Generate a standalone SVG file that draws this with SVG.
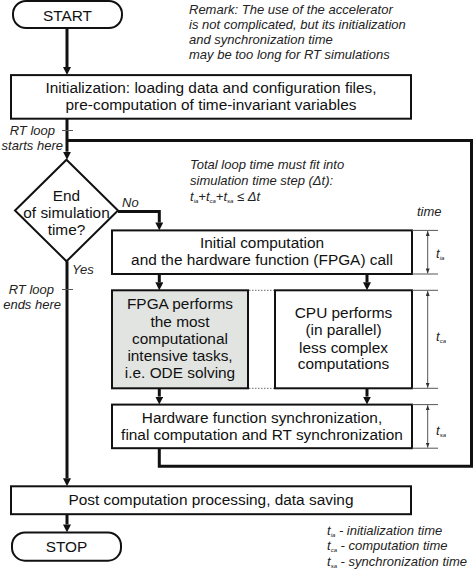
<svg xmlns="http://www.w3.org/2000/svg" width="474" height="569" viewBox="0 0 474 569">
<style>
  .box { fill: #ffffff; stroke: #111; stroke-width: 2; }
  .gray { fill: #e1e4e1; stroke: #111; stroke-width: 2; }
  .t { font-family: "Liberation Sans", Arial, sans-serif; font-size: 15.4px; fill: #111; text-anchor: middle; }
  .it { font-family: "Liberation Sans", Arial, sans-serif; font-size: 13px; font-style: italic; fill: #222; }
  .sub { font-size: 6px; }
  .flow { fill: none; stroke: #111; stroke-width: 3; }
  .thin { fill: none; stroke: #555; stroke-width: 1; }
  .dot { fill: none; stroke: #666; stroke-width: 1; stroke-dasharray: 1.5 1.5; }
</style>
<defs>
  <marker id="ah" viewBox="0 0 8 8" refX="0" refY="4" markerWidth="8" markerHeight="8" markerUnits="userSpaceOnUse" orient="auto">
    <path d="M0,0 L8,4 L0,8 z" fill="#111"/>
  </marker>
  <marker id="sh" viewBox="0 0 5 4" refX="5" refY="2" markerWidth="5" markerHeight="4" markerUnits="userSpaceOnUse" orient="auto-start-reverse">
    <path d="M0,0 L5,2 L0,4 z" fill="#333"/>
  </marker>
</defs>
<rect width="474" height="569" fill="#ffffff"/>

<g id="connectors">
  <line class="flow" x1="67" y1="28" x2="67" y2="67" marker-end="url(#ah)"/>
  <line class="flow" x1="67" y1="118.7" x2="67" y2="151.7" marker-end="url(#ah)"/>
  <line class="flow" x1="67" y1="261.3" x2="67" y2="478.3" marker-end="url(#ah)"/>
  <line class="flow" x1="67" y1="514.2" x2="67" y2="524.4" marker-end="url(#ah)"/>
  <path class="flow" d="M118,211.5 H159.3 V222.4" marker-end="url(#ah)"/>
  <line class="flow" x1="159.3" y1="274" x2="159.3" y2="282.3" marker-end="url(#ah)"/>
  <line class="flow" x1="367" y1="274" x2="367" y2="282.3" marker-end="url(#ah)"/>
  <line class="flow" x1="159.3" y1="388.3" x2="159.3" y2="396.6" marker-end="url(#ah)"/>
  <line class="flow" x1="367" y1="388.3" x2="367" y2="396.6" marker-end="url(#ah)"/>
  <path class="flow" d="M159.3,448.2 V466.3 H471.5 V140.5 H67"/>
  <line class="thin" x1="62" y1="130.5" x2="73" y2="130.5"/>
  <line class="thin" x1="62" y1="289.5" x2="73" y2="289.5"/>
  <line class="dot" x1="249" y1="290.3" x2="274" y2="290.3"/>
  <line class="dot" x1="249" y1="388.3" x2="274" y2="388.3"/>
</g>

<g id="start">
  <rect class="box" x="13" y="1" width="109" height="27" rx="13"/>
  <text class="t" x="67.5" y="21">START</text>
</g>

<g id="remark">
  <text class="it" x="189" y="13.5">Remark: The use of the accelerator</text>
  <text class="it" x="189" y="28.8">is not complicated, but its initialization</text>
  <text class="it" x="189" y="43.5">and synchronization time</text>
  <text class="it" x="189" y="58.8">may be too long for RT simulations</text>
</g>

<g id="init">
  <rect class="box" x="11" y="75.1" width="400" height="43.6"/>
  <text class="t" x="211" y="92.5">Initialization: loading data and configuration files,</text>
  <text class="t" x="211" y="109.6">pre-computation of time-invariant variables</text>
</g>

<g id="rt-start-label">
  <text class="it" x="55" y="134.6" text-anchor="end">RT loop</text>
  <text class="it" x="63" y="149.9" text-anchor="end">starts here</text>
</g>

<g id="decision">
  <polygon class="box" points="66.5,159.7 118,210.5 66.5,261.3 15,210.5"/>
  <text class="t" x="66.5" y="200.6">End</text>
  <text class="t" x="66.5" y="217.7">of simulation</text>
  <text class="t" x="66.5" y="234.8">time?</text>
</g>

<g id="labels">
  <text class="it" x="122" y="207.2">No</text>
  <text class="it" x="72" y="274.3">Yes</text>
  <text class="it" x="54" y="293.9" text-anchor="end">RT loop</text>
  <text class="it" x="61" y="308.8" text-anchor="end">ends here</text>
</g>

<g id="total-loop-note">
  <text class="it" x="190" y="168.7">Total loop time must fit into</text>
  <text class="it" x="190" y="185.1">simulation time step (Δt):</text>
  <text class="it" x="190" y="201.4">t<tspan class="sub" dy="2">ia</tspan><tspan dy="-2">+t</tspan><tspan class="sub" dy="2">ca</tspan><tspan dy="-2">+t</tspan><tspan class="sub" dy="2">sa</tspan><tspan dy="-2"> ≤ Δt</tspan></text>
</g>

<g id="initial-computation">
  <rect class="box" x="112" y="230.4" width="300" height="43.6"/>
  <text class="t" x="262" y="247.8">Initial computation</text>
  <text class="t" x="262" y="265.2">and the hardware function (FPGA) call</text>
</g>

<g id="fpga">
  <rect class="gray" x="112" y="290.3" width="136" height="98"/>
  <text class="t" x="180" y="309.1">FPGA performs</text>
  <text class="t" x="180" y="326.6">the most</text>
  <text class="t" x="180" y="344">computational</text>
  <text class="t" x="180" y="361">intensive tasks,</text>
  <text class="t" x="180" y="378.1">i.e. ODE solving</text>
</g>

<g id="cpu">
  <rect class="box" x="275" y="290.3" width="137" height="98"/>
  <text class="t" x="343.5" y="317.5">CPU performs</text>
  <text class="t" x="343.5" y="334.9">(in parallel)</text>
  <text class="t" x="343.5" y="352.7">less complex</text>
  <text class="t" x="343.5" y="369.4">computations</text>
</g>

<g id="sync">
  <rect class="box" x="112" y="404.6" width="300" height="43.6"/>
  <text class="t" x="262" y="422.7">Hardware function synchronization,</text>
  <text class="t" x="262" y="439.8">final computation and RT synchronization</text>
</g>

<g id="time-axis">
  <text class="it" x="417" y="215.9">time</text>
  <line class="thin" x1="412" y1="230.4" x2="438" y2="230.4"/>
  <line class="thin" x1="412" y1="274" x2="438" y2="274"/>
  <line class="thin" x1="412" y1="290.3" x2="438" y2="290.3"/>
  <line class="thin" x1="412" y1="388.3" x2="438" y2="388.3"/>
  <line class="thin" x1="412" y1="404.6" x2="438" y2="404.6"/>
  <line class="thin" x1="412" y1="448.2" x2="438" y2="448.2"/>
  <line class="thin" x1="427.7" y1="231" x2="427.7" y2="273.4" marker-start="url(#sh)" marker-end="url(#sh)"/>
  <line class="thin" x1="427.7" y1="291" x2="427.7" y2="387.7" marker-start="url(#sh)" marker-end="url(#sh)"/>
  <line class="thin" x1="427.7" y1="405.2" x2="427.7" y2="447.6" marker-start="url(#sh)" marker-end="url(#sh)"/>
  <text class="it" x="436" y="257.5" font-size="12">t<tspan class="sub" dy="2">ia</tspan></text>
  <text class="it" x="436" y="341" font-size="12">t<tspan class="sub" dy="2">ca</tspan></text>
  <text class="it" x="436" y="435.3" font-size="12">t<tspan class="sub" dy="2">sa</tspan></text>
</g>

<g id="post">
  <rect class="box" x="11" y="486.3" width="400" height="27.9"/>
  <text class="t" x="211" y="505.2">Post computation processing, data saving</text>
</g>

<g id="stop">
  <rect class="box" x="12" y="532.4" width="109" height="28.3" rx="13"/>
  <text class="t" x="66.5" y="552.4">STOP</text>
</g>

<g id="legend">
  <text class="it" x="327" y="534.6">t<tspan class="sub" dy="2">ia</tspan><tspan dy="-2"> - initialization time</tspan></text>
  <text class="it" x="327" y="550">t<tspan class="sub" dy="2">ca</tspan><tspan dy="-2"> - computation time</tspan></text>
  <text class="it" x="327" y="566.4">t<tspan class="sub" dy="2">sa</tspan><tspan dy="-2"> - synchronization time</tspan></text>
</g>
</svg>
